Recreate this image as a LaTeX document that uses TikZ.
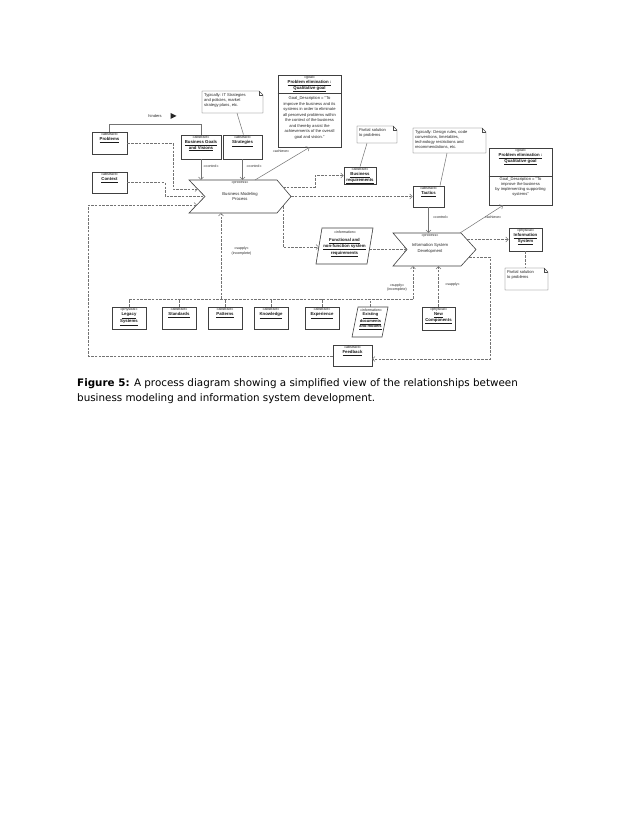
\documentclass[tikz,border=0pt]{standalone}
\usepackage{fontspec}
\setmainfont{Liberation Sans}
\newfontfamily\capfont{DejaVu Sans}
\usetikzlibrary{arrows.meta}

\newcommand\ster[1]{{\fontsize{3.6}{4.4}\selectfont «#1»}}
\newcommand\nm[1]{\underline{\textbf{#1}}}
\newcommand\ubox[6]{%
  \node[ubox, minimum width=#4pt, minimum height=#5pt] (#1) at (#2,#3) {};
  \node[utext, anchor=north] at (#1.north) {#6};}
\newcommand\unote[6]{%
  \path[draw=black!70, line width=0.45pt, fill=white] (#2,#3) -- (#4-4,#3) -- (#4,#3+4) -- (#4,#5) -- (#2,#5) -- cycle;
  \draw[black!70, line width=0.4pt] (#4-4,#3) -- (#4-4,#3+4) -- (#4,#3+4);
  \node[inner sep=0pt, minimum width={(#4-#2)*1pt}, minimum height={(#5-#3)*1pt}] (#1) at ({(#2+#4)/2},{(#3+#5)/2}) {};
  \node[notetext, anchor=north west] at ([xshift=2pt,yshift=-2.2pt]#1.north west) {#6};}

\begin{document}
\begin{tikzpicture}[x=1pt,y=-1pt,
  ubox/.style={draw=black!75, line width=0.7pt, fill=white, inner sep=0pt},
  utext/.style={align=center, inner sep=1pt, font=\fontsize{4.3}{5.3}\selectfont, text=black!90},
  notetext/.style={align=left, inner sep=0pt, font=\fontsize{4.1}{5.2}\selectfont, text=black!85},
  desc/.style={align=center, inner sep=0pt, font=\fontsize{4.1}{5.5}\selectfont, text=black!85},
  ptext/.style={align=center, inner sep=0pt, font=\fontsize{4.2}{5.6}\selectfont, text=black!85},
  procline/.style={draw=black!75, line width=0.6pt, fill=white},
  dep/.style={draw=black!55, line width=0.5pt, dash pattern=on 2.6pt off 1.2pt},
  sol/.style={draw=black!55, line width=0.5pt},
  arr/.style={-{Straight Barb[length=2.6pt,width=5pt]}},
  lab/.style={font=\fontsize{3.6}{4.4}\selectfont, inner sep=0pt, align=center, text=black!85}
]
\fill[white] (0,0) rectangle (638,826);
\useasboundingbox (0,0) rectangle (638,826);

% ---------- process shapes ----------
\path[procline] (189,180) -- (277,180) -- (291,196.5) -- (277,213) -- (189,213) -- (205,196.5) -- cycle;
\node[ptext] (bmp) at (240,196.5) {Business Modeling\\Process};
\node[lab] (bmpst) at (240,183) {«process»};
\path[procline] (393,233) -- (461,233) -- (476,249.5) -- (461,266) -- (393,266) -- (407,249.5) -- cycle;
\node[ptext] (isd) at (430,248.5) {Information System\\Development};
\node[lab] (isdst) at (430,236) {«process»};

% parallelograms
\path[procline] (322,228) -- (373,228) -- (367,264) -- (316,264) -- cycle;
\node[lab] (frst) at (345,232) {«information»};
\node[utext, inner sep=0pt] (fr) at (344.5,248) {\nm{Functional and}\\\nm{non-function system}\\\nm{requirements}};
\path[procline] (358,307) -- (388,307) -- (382,337) -- (352,337) -- cycle;
\node[lab] (edst) at (371,310) {«information»};
\node[utext, inner sep=0pt, font=\fontsize{4}{5.2}\selectfont] (ed) at (370.5,321.5) {\nm{Existing}\\\nm{documents}\\\nm{and models}};

\coordinate (bmpIn1) at (198,189);
\coordinate (bmpNotch) at (205,196.5);
\coordinate (bmpIn3) at (197,205);
\coordinate (bmpTip) at (291,196.5);
\coordinate (bmpUR) at (283,187);
\coordinate (bmpLR) at (283,206);
\coordinate (bmpTopR) at (255,180);
\coordinate (bmpBot) at (221,213);
\coordinate (isdNotch) at (407,249.5);
\coordinate (isdTopR) at (460,233);
\coordinate (isdUR) at (467,239.5);
\coordinate (isdLR) at (469,257);
\coordinate (isdBot) at (430,266);
\coordinate (frIn) at (319,247);
\coordinate (frOut) at (369.6,249.5);
\coordinate (edTop) at (370,307);

% ---------- boxes ----------
\ubox{problems}{109.5}{143}{35}{22}{\ster{abstract}\\\nm{Problems}}
\ubox{context}{109.5}{182.5}{35}{21}{\ster{abstract}\\\nm{Context}}
\ubox{bgv}{201}{147}{40}{24}{\ster{abstract}\\\nm{Business Goals}\\\nm{and Visions}}
\ubox{strat}{242.5}{147}{39}{24}{\ster{abstract}\\\nm{Strategies}}
\ubox{busreq}{360}{175.5}{32}{17}{\ster{abstract}\\\nm{Business}\\\nm{requirements}}
\ubox{tactics}{428.5}{196.5}{31}{21}{\ster{abstract}\\\nm{Tactics}}
\ubox{is}{525.5}{239.5}{33}{23}{\ster{physical}\\\nm{Information}\\\nm{System}}
\ubox{legacy}{129}{318}{34}{22}{\ster{physical}\\\nm{Legacy}\\\nm{Systems}}
\ubox{standards}{179}{318}{34}{22}{\ster{abstract}\\\nm{Standards}}
\ubox{patterns}{225}{318}{34}{22}{\ster{abstract}\\\nm{Patterns}}
\ubox{knowledge}{271}{318}{34}{22}{\ster{abstract}\\\nm{Knowledge}}
\ubox{experience}{322}{318}{34}{22}{\ster{abstract}\\\nm{Experience}}
\ubox{newc}{438.5}{318.5}{33}{23}{\ster{physical}\\\nm{New}\\\nm{Components}}
\ubox{feedback}{352.5}{355.5}{39}{21}{\ster{abstract}\\\nm{Feedback}}

% goal boxes
\node[ubox, minimum width=63pt, minimum height=72pt] (goal1) at (309.5,111) {};
\draw[black!75, line width=0.5pt] (goal1.west |- 0,93) -- (goal1.east |- 0,93);
\node[utext, anchor=north] (goal1t) at (goal1.north) {\ster{goal}\\\nm{Problem elimination :}\\\nm{Qualitative goal}};
\node[desc, anchor=north] (goal1d) at (309.5,96.5) {Goal\_Description = "To\\improve the business and its\\systems in order to eliminate\\all perceived problems within\\the context of the business\\and thereby assist the\\achievements of the overall\\goal and vision."};

\node[ubox, minimum width=63pt, minimum height=57pt] (goal2) at (520.5,176.5) {};
\draw[black!75, line width=0.5pt] (goal2.west |- 0,176) -- (goal2.east |- 0,176);
\node[utext, anchor=north] (goal2t) at (goal2.north) {\ster{goal}\\\nm{Problem elimination :}\\\nm{Qualitative goal}};
\node[desc, anchor=north, font=\fontsize{4.1}{5}\selectfont] (goal2d) at (520.5,177.5) {Goal\_Description = "To\\improve the business\\by implementing supporting\\systems"};

% notes
\unote{note1}{202}{91}{263}{113}{Typically: IT Strategies\\and policies, market\\strategy plans, etc.}
\unote{note2}{357}{126}{397}{143}{Partial solution\\to problems}
\unote{note3}{413}{128}{486}{153}{Typically: Design rules, code\\conventions, timetables,\\technology restrictions and\\recommendations, etc.}
\unote{note4}{505}{268}{548}{290}{Partial solution\\to problems}

% ---------- connectors ----------
\coordinate (hz) at (201,124);
\draw[sol] (problems.north) |- (hz) -- (bgv.north);
\node[lab, font=\fontsize{4}{5}\selectfont] (hind) at (155,116) {hinders};
\fill[black!85] (170.5,113) -- (176.5,116) -- (170.5,119) -- cycle;

\coordinate (pc) at (173,189);
\coordinate (cc) at (165,196.5);
\draw[dep,arr] (problems.east) -| (pc) -- (bmpIn1);
\draw[dep,arr] (context.east) -| (cc) -- (bmpNotch);

\draw[sol,arr] (bgv.south) -- (bgv.south |- bmpTopR);
\draw[sol,arr] (strat.south) -- (strat.south |- bmpTopR);
\node[lab, anchor=west] (c1) at (203.5,166) {«control»};
\node[lab, anchor=west] (c2) at (246.5,166) {«control»};

\draw[sol] ([xshift=4.5pt]note1.south) -- ([xshift=1pt]strat.north);
\draw[sol] ([xshift=-10pt]note2.south) -- (busreq.north);
\draw[sol] ([xshift=-2.5pt]note3.south) -- ([xshift=11.5pt]tactics.north);
\draw[dep] (is.south) -- (is.south |- note4.north);

\draw[sol,arr] (bmpTopR) -- (goal1.south);
\node[lab] (a1) at (281,151) {«achieve»};
\draw[sol,arr] (isdTopR) -- ([xshift=-17.5pt]goal2.south);
\node[lab] (a2) at (493,217) {«achieve»};

\coordinate (br1) at (315,187);
\draw[dep,arr] (bmpUR) -- (br1) |- (busreq.west);
\draw[dep,arr] (bmpTip) -- (tactics.west);
\draw[dep,arr] (bmpLR) |- (frIn);
\draw[dep,arr] (frOut) -- (isdNotch);

\draw[sol,arr] (tactics.south) -- (tactics.south |- isdTopR);
\node[lab, anchor=west] (c3) at (433,217) {«control»};

\draw[dep,arr] (isdUR) -- (is.west);

\coordinate (rl1) at (490,257);
\coordinate (fbIn) at (372,359);
\draw[dep,arr] (isdLR) -- (rl1) |- (fbIn);
\coordinate (fbOut) at (333,356);
\coordinate (ll1) at (88,205);
\draw[dep,arr] (fbOut) -| (ll1) -- (bmpIn3);

% bus
\coordinate (busR) at (413,299);
\coordinate (busM) at (221,299);
\draw[dep] (legacy.north) |- (busR);
\draw[dep] (standards.north) -- (standards.north |- busR);
\draw[dep] (patterns.north) -- (patterns.north |- busR);
\draw[dep] (knowledge.north) -- (knowledge.north |- busR);
\draw[dep] (experience.north) -- (experience.north |- busR);
\draw[dep] (edTop) -- (edTop |- busR);
\draw[dep,arr] (busR) -- (busR |- isdBot);
\draw[dep,arr] (busM) -- (bmpBot);
\draw[dep,arr] (newc.north) -- (newc.north |- isdBot);
\node[lab] (s1) at (241.5,251) {«supply»\\(incomplete)};
\node[lab] (s2) at (397,287.5) {«supply»\\(incomplete)};
\node[lab] (s3) at (452.5,285) {«supply»};

% caption
\node[anchor=base west, inner sep=0pt, font=\capfont\fontsize{10.35}{13}\selectfont] (cap1) at (77,386.5) {\textbf{Figure 5:} A process diagram showing a simplified view of the relationships between};
\node[anchor=base west, inner sep=0pt, font=\capfont\fontsize{10.35}{13}\selectfont] (cap2) at (77,401) {business modeling and information system development.};
\end{tikzpicture}
\end{document}
